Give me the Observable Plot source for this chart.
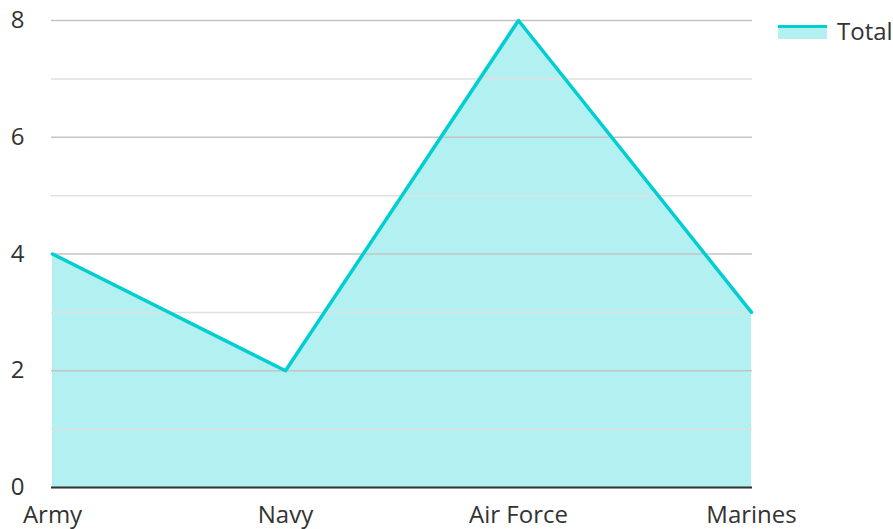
<!DOCTYPE html>
<html>
<head>
<meta charset="utf-8">
<script src="https://cdn.jsdelivr.net/npm/d3@7"></script>
<script src="https://cdn.jsdelivr.net/npm/@observablehq/plot@0.6"></script>
<style>
  html, body { margin: 0; padding: 0; background: #fff; }
  #wrap { position: relative; width: 893px; height: 529px; font-family: "Open Sans", sans-serif; }
  #legend { position: absolute; left: 778px; top: 14px; display: flex; align-items: center; font-size: 24px; color: #333; }
  #legend .sw { width: 49px; height: 14px; margin-right: 10px; margin-top: 3px; background: rgba(0,206,209,0.3); border-top: 3px solid #00ced1; box-sizing: border-box; }
  svg { overflow: visible; }
</style>
</head>
<body>
<div id="wrap"><div id="chart"></div><div id="legend"><span class="sw"></span><span>Total</span></div></div>
<script>
const categories = ["Army", "Navy", "Air Force", "Marines"];
const totals = [4, 2, 8, 3];
const majorTicks = [0, 2, 4, 6, 8];
const minorTicks = [1, 3, 5, 7];
const seriesName = "Total";

const data = categories.map((c, i) => ({branch: c, value: totals[i], series: seriesName}));
const color = "#00ced1";

const chart = Plot.plot({
  width: 893,
  height: 529,
  marginLeft: 51,
  marginRight: 141,
  marginTop: 20,
  marginBottom: 42,
  style: {fontFamily: "'Open Sans', sans-serif", fontSize: "24px", color: "#333", background: "transparent", overflow: "visible"},
  x: {type: "point", domain: categories, padding: 0, label: null},
  y: {domain: [0, 8], label: null},
  marks: [
    Plot.areaY(data, {x: "branch", y: "value", fill: color, fillOpacity: 0.3}),
    Plot.gridY(minorTicks, {stroke: "#e0e0e0", strokeOpacity: 1, strokeWidth: 1.5}),
    Plot.gridY(majorTicks, {stroke: "#c4c4c4", strokeOpacity: 1, strokeWidth: 1.5}),
    Plot.lineY(data, {x: "branch", y: "value", stroke: color, strokeWidth: 3.5}),
    Plot.ruleY([0], {stroke: "#333", strokeWidth: 2}),
    Plot.axisY({ticks: majorTicks, tickSize: 0, tickPadding: 27, fontSize: 24, textAnchor: "end"}),
    Plot.axisX({tickSize: 0, tickPadding: 18, fontSize: 24})
  ]
});
document.getElementById("chart").appendChild(chart);
</script>
</body>
</html>
